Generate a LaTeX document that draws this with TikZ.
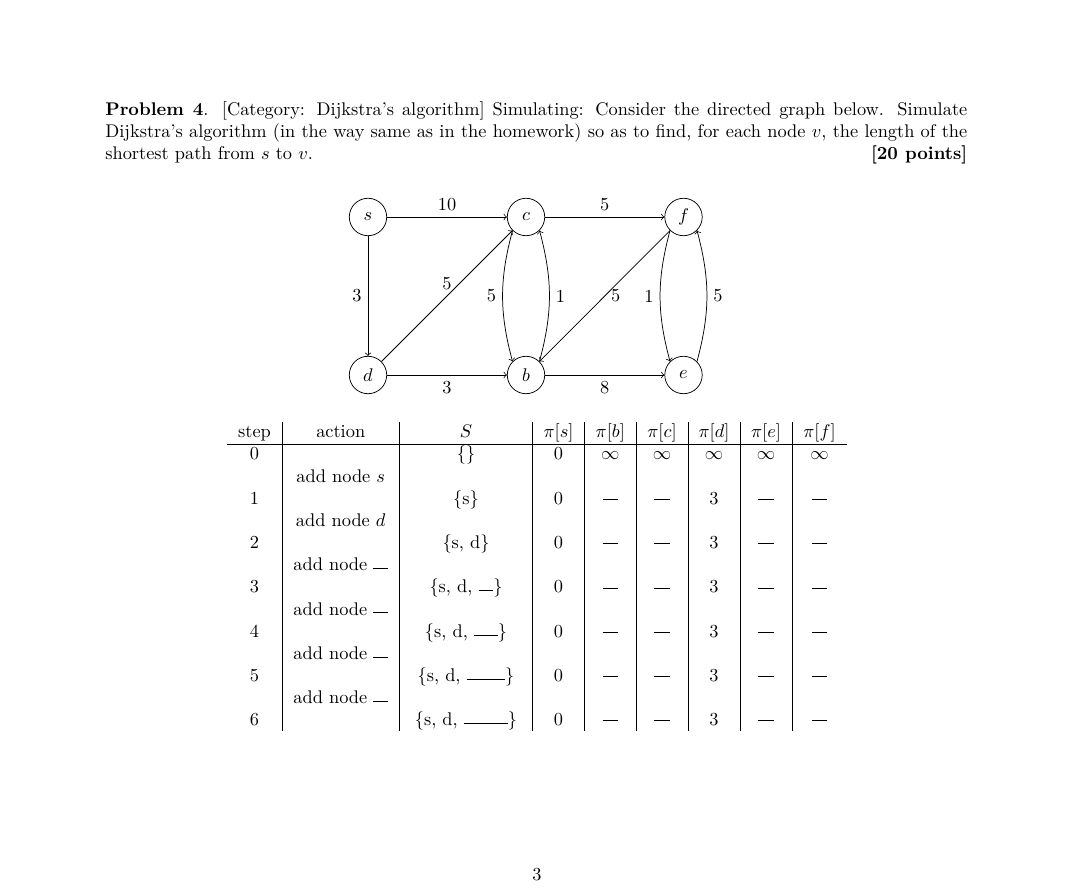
\documentclass[tikz,border=0pt]{standalone}
\begin{document}
\begin{tikzpicture}[x=0.545pt,y=-0.545pt,
  vtx/.style={draw, circle, minimum size=20.4pt, inner sep=0pt},
  edge/.style={->, line width=0.4pt},
  cell/.style={anchor=base, inner sep=0pt},
  txtline/.style={anchor=base west, inner sep=0pt}]
\newcommand{\pdash}{\rule[2.5pt]{8.2pt}{0.4pt}}
\newcommand{\adash}{\rule[1pt]{8pt}{0.4pt}}
\useasboundingbox (0,0) rectangle (1080,896);
% problem text
\node[txtline] (l1) at (105,116) {\makebox[469.75pt][s]{\textbf{Problem 4}. [Category: Dijkstra's algorithm] Simulating: Consider the directed graph below. Simulate}};
\node[txtline] (l2) at (105,138) {\makebox[469.75pt][s]{Dijkstra's algorithm (in the way same as in the homework) so as to find, for each node $v$, the length of the}};
\node[txtline] (l3) at (105,160) {\makebox[469.75pt][l]{shortest path from $s$ to $v$.\hfill\textbf{[20 points]}}};
% graph
\node[vtx] (s) at (368,217) {$s$};
\node[vtx] (c) at (526,217) {$c$};
\node[vtx] (f) at (683.5,217) {$f$};
\node[vtx] (d) at (368,375) {$d$};
\node[vtx] (b) at (526,375) {$b$};
\node[vtx] (e) at (683.5,375) {$e$};
\draw[edge] (s) -- node[above] (w1) {10} (c);
\draw[edge] (c) -- node[above] (w2) {5} (f);
\draw[edge] (s) -- node[left] (w3) {3} (d);
\draw[edge] (d) -- node[above] (w4) {5} (c);
\draw[edge] (d) -- node[below] (w5) {3} (b);
\draw[edge] (b) -- node[below] (w6) {8} (e);
\draw[edge] (f) -- node[right] (w7) {5} (b);
\draw[edge] (c.south west) to[bend right=15] node[left] (w8) {5} (b.north west);
\draw[edge] (b.north east) to[bend right=15] node[right] (w9) {1} (c.south east);
\draw[edge] (f.south west) to[bend right=15] node[left] (w10) {1} (e.north west);
\draw[edge] (e.north east) to[bend right=15] node[right] (w11) {5} (f.south east);
% table rules
\draw[line width=0.4pt] (227,444) -- (847,444);
\foreach \x in {282,399.5,532.5,584.5,636,688,740,792}
  \draw[line width=0.4pt] (\x,422) -- (\x,731);
% header
\foreach \t/\x/\n in {step/254.5/h0, action/340.75/h1, {$S$}/466/h2, {$\pi[s]$}/558.5/h3, {$\pi[b]$}/610.25/h4, {$\pi[c]$}/662/h5, {$\pi[d]$}/714/h6, {$\pi[e]$}/766/h7, {$\pi[f]$}/819.5/h8}
  \node[cell] (\n) at (\x,438) {\t};
% row 0
\node[cell] (r0a) at (254.5,460) {0};
\node[cell] (r0s) at (466,460) {\{\}};
\node[cell] (r0p1) at (558.5,460) {0};
\foreach \x/\n in {610.25/2, 662/3, 714/4, 766/5, 819.5/6}
  \node[cell] (r0p\n) at (\x,460) {$\infty$};
% rows 1..6
\foreach \k/\set in {1/{\{s\}}, 2/{\{s, d\}}, 3/{\{s, d, \rule[1pt]{8pt}{0.4pt}\}}, 4/{\{s, d, \rule[1pt]{13pt}{0.4pt}\}}, 5/{\{s, d, \rule[1pt]{21pt}{0.4pt}\}}, 6/{\{s, d, \rule[1pt]{24pt}{0.4pt}\}}} {
  \pgfmathsetmacro{\yy}{460+44.3*\k}
  \node[cell] (r\k a) at (254.5,\yy) {\k};
  \node[cell] (r\k s) at (466,\yy) {\set};
  \node[cell] (r\k p1) at (558.5,\yy) {0};
  \node[cell] (r\k p2) at (610.25,\yy) {\pdash};
  \node[cell] (r\k p3) at (662,\yy) {\pdash};
  \node[cell] (r\k p4) at (714,\yy) {3};
  \node[cell] (r\k p5) at (766,\yy) {\pdash};
  \node[cell] (r\k p6) at (819.5,\yy) {\pdash};
}
% actions
\foreach \k/\act in {1/{add node $s$}, 2/{add node $d$}, 3/{add node \adash}, 4/{add node \adash}, 5/{add node \adash}, 6/{add node \adash}} {
  \pgfmathsetmacro{\yy}{460+44.3*\k-22.15}
  \node[cell] (act\k) at (340.75,\yy) {\act};
}
% page number
\node[cell] (pg) at (537,880) {3};
\end{tikzpicture}
\end{document}
